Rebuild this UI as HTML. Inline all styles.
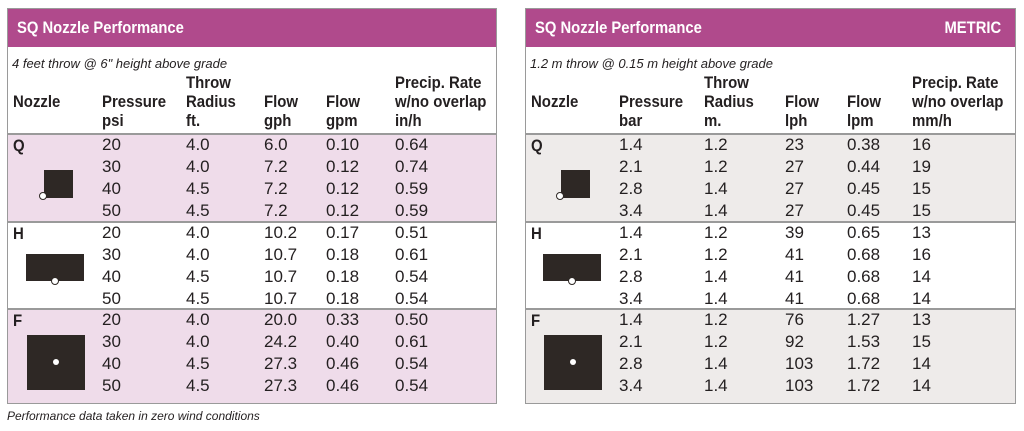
<!DOCTYPE html>
<html><head><meta charset="utf-8"><style>
body{margin:0;width:1024px;height:431px;background:#fff;position:relative;overflow:hidden;font-family:"Liberation Sans Narrow","Liberation Sans",sans-serif;color:#231f20}
.t{position:absolute;border:1px solid #9a9a9a;background:#fff}
.hd{position:absolute;left:0;top:0;right:0;height:38px;background:#b04a8c;color:#fff;font-weight:bold;font-size:17px;line-height:38px;font-family:"Liberation Sans",sans-serif}
.hd span{position:absolute;top:0;transform:scaleX(0.87)}
.sec{position:absolute;left:0;right:0;border-top:2px solid #9a9a9a}
.a{position:absolute;white-space:nowrap}
.b{font-weight:bold;font-size:17px;line-height:19px;transform:scaleX(0.88);transform-origin:0 0}
.d{font-size:17px;line-height:22px}
.sub{font-style:italic;font-size:13px}
.sh{position:absolute;background:#2e2825}
.c{position:absolute;border-radius:50%;background:#fff;border:1.5px solid #2e2825;width:6px;height:6px}
</style></head><body>

<div class="t" style="left:7px;top:8px;width:488px;height:394px">
 <div class="hd"><span style="left:9px;transform-origin:0 0">SQ Nozzle Performance</span></div>
 <div class="sec" style="top:124px;height:88px;background:#efdcea"></div>
 <div class="sec" style="top:212px;height:87px;background:#fff"></div>
 <div class="sec" style="top:299px;height:93px;background:#efdcea"></div>
</div>
<div class="t" style="left:525px;top:8px;width:489px;height:394px">
 <div class="hd"><span style="left:9px;transform-origin:0 0">SQ Nozzle Performance</span><span style="right:14px;transform-origin:100% 0">METRIC</span></div>
 <div class="sec" style="top:124px;height:88px;background:#eeebea"></div>
 <div class="sec" style="top:212px;height:87px;background:#fff"></div>
 <div class="sec" style="top:299px;height:93px;background:#eeebea"></div>
</div>

<div class="a sub" style="left:12px;top:56px">4 feet throw @ 6" height above grade</div>
<div class="a sub" style="left:530px;top:56px">1.2 m throw @ 0.15 m height above grade</div>

<div class="a b" style="left:13px;top:92px">Nozzle</div>
<div class="a b" style="left:102px;top:92px">Pressure<br>psi</div>
<div class="a b" style="left:186px;top:73px">Throw<br>Radius<br>ft.</div>
<div class="a b" style="left:264px;top:92px">Flow<br>gph</div>
<div class="a b" style="left:326px;top:92px">Flow<br>gpm</div>
<div class="a b" style="left:395px;top:73px">Precip. Rate<br>w/no overlap<br>in/h</div>
<div class="a b" style="left:531px;top:92px">Nozzle</div>
<div class="a b" style="left:619px;top:92px">Pressure<br>bar</div>
<div class="a b" style="left:704px;top:73px">Throw<br>Radius<br>m.</div>
<div class="a b" style="left:785px;top:92px">Flow<br>lph</div>
<div class="a b" style="left:847px;top:92px">Flow<br>lpm</div>
<div class="a b" style="left:912px;top:73px">Precip. Rate<br>w/no overlap<br>mm/h</div>

<div class="a b" style="left:13px;top:136px">Q</div>
<div class="a b" style="left:13px;top:224px">H</div>
<div class="a b" style="left:13px;top:311px">F</div>
<div class="a d" style="left:102px;top:134px">20<br>30<br>40<br>50</div>
<div class="a d" style="left:186px;top:134px">4.0<br>4.0<br>4.5<br>4.5</div>
<div class="a d" style="left:264px;top:134px">6.0<br>7.2<br>7.2<br>7.2</div>
<div class="a d" style="left:326px;top:134px">0.10<br>0.12<br>0.12<br>0.12</div>
<div class="a d" style="left:395px;top:134px">0.64<br>0.74<br>0.59<br>0.59</div>
<div class="a d" style="left:102px;top:222px">20<br>30<br>40<br>50</div>
<div class="a d" style="left:186px;top:222px">4.0<br>4.0<br>4.5<br>4.5</div>
<div class="a d" style="left:264px;top:222px">10.2<br>10.7<br>10.7<br>10.7</div>
<div class="a d" style="left:326px;top:222px">0.17<br>0.18<br>0.18<br>0.18</div>
<div class="a d" style="left:395px;top:222px">0.51<br>0.61<br>0.54<br>0.54</div>
<div class="a d" style="left:102px;top:309px">20<br>30<br>40<br>50</div>
<div class="a d" style="left:186px;top:309px">4.0<br>4.0<br>4.5<br>4.5</div>
<div class="a d" style="left:264px;top:309px">20.0<br>24.2<br>27.3<br>27.3</div>
<div class="a d" style="left:326px;top:309px">0.33<br>0.40<br>0.46<br>0.46</div>
<div class="a d" style="left:395px;top:309px">0.50<br>0.61<br>0.54<br>0.54</div>

<div class="a b" style="left:531px;top:136px">Q</div>
<div class="a b" style="left:531px;top:224px">H</div>
<div class="a b" style="left:531px;top:311px">F</div>
<div class="a d" style="left:619px;top:134px">1.4<br>2.1<br>2.8<br>3.4</div>
<div class="a d" style="left:704px;top:134px">1.2<br>1.2<br>1.4<br>1.4</div>
<div class="a d" style="left:785px;top:134px">23<br>27<br>27<br>27</div>
<div class="a d" style="left:847px;top:134px">0.38<br>0.44<br>0.45<br>0.45</div>
<div class="a d" style="left:912px;top:134px">16<br>19<br>15<br>15</div>
<div class="a d" style="left:619px;top:222px">1.4<br>2.1<br>2.8<br>3.4</div>
<div class="a d" style="left:704px;top:222px">1.2<br>1.2<br>1.4<br>1.4</div>
<div class="a d" style="left:785px;top:222px">39<br>41<br>41<br>41</div>
<div class="a d" style="left:847px;top:222px">0.65<br>0.68<br>0.68<br>0.68</div>
<div class="a d" style="left:912px;top:222px">13<br>16<br>14<br>14</div>
<div class="a d" style="left:619px;top:309px">1.4<br>2.1<br>2.8<br>3.4</div>
<div class="a d" style="left:704px;top:309px">1.2<br>1.2<br>1.4<br>1.4</div>
<div class="a d" style="left:785px;top:309px">76<br>92<br>103<br>103</div>
<div class="a d" style="left:847px;top:309px">1.27<br>1.53<br>1.72<br>1.72</div>
<div class="a d" style="left:912px;top:309px">13<br>15<br>14<br>14</div>

<div class="sh" style="left:44px;top:170px;width:29px;height:28px"></div>
<div class="c" style="left:39px;top:192px"></div>
<div class="sh" style="left:26px;top:254px;width:58px;height:27px"></div>
<div class="c" style="left:51px;top:277px"></div>
<div class="sh" style="left:27px;top:335px;width:58px;height:55px"></div>
<div style="position:absolute;left:53px;top:359px;width:6px;height:6px;border-radius:50%;background:#fff"></div>
<div class="sh" style="left:561px;top:170px;width:29px;height:28px"></div>
<div class="c" style="left:556px;top:192px"></div>
<div class="sh" style="left:543px;top:254px;width:58px;height:27px"></div>
<div class="c" style="left:568px;top:277px"></div>
<div class="sh" style="left:544px;top:335px;width:58px;height:55px"></div>
<div style="position:absolute;left:570px;top:359px;width:6px;height:6px;border-radius:50%;background:#fff"></div>

<div class="a sub" style="left:7px;top:409px;font-size:12px">Performance data taken in zero wind conditions</div>
</body></html>
